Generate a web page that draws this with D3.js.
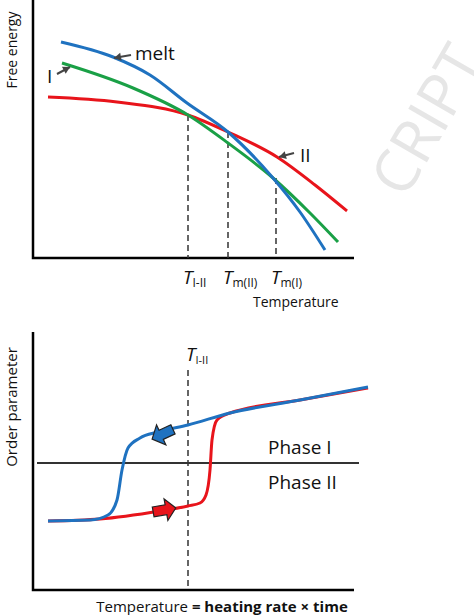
<!DOCTYPE html>
<html><head><meta charset="utf-8">
<script src="https://cdn.jsdelivr.net/npm/d3@7"></script>
<style>body{margin:0;background:#fff}text{font-family:"Open Sans",sans-serif;fill:#111}</style>
</head><body><svg id="c" width="474" height="615"></svg>
<script>
// Top panel: free energy vs temperature
const meltX=[28,80,117,154,195,240,267,292], meltY=[216,201,183,155,126,80,46,8];
const phaseIX=[29,100,155,195,240,277,305], phaseIY=[195,170,143,115,80,45,16];
const phaseIIX=[15,84,155,195,244,282,314], phaseIIY=[161,156,143,126,101,73,47];
const transX=[155,195,243], transY=[143,126,80];
const transMain=["T","T","T"], transSub=["I-II","m(II)","m(I)"];
// Bottom panel: order parameter vs time
const coolX=[15,57,75,84,89,95,107,125,155,197,267,335], coolY=[69,70,75,90,120,142,152,158,165,177,190,203];
const heatX=[15,67,127,155,167,173,177,179,184,197,267,335], heatY=[69,71,79,84,87,95,120,150,170,177,190,202];
const tIIIx=155, phaseBoundary=127;

const svg=d3.select("#c");
const x=d3.scaleLinear().domain([0,321]).range([33,354]);
const y1=d3.scaleLinear().domain([0,258]).range([258,0]);
const y2=d3.scaleLinear().domain([0,258]).range([590,332]);

// watermark
svg.append("text").attr("transform","translate(405,200) rotate(-60)").attr("font-size",60).style("fill","#e6e6e6").text("CRIPT");

// top axes
svg.append("path").attr("d","M33,0V258H354").attr("fill","none").attr("stroke","#000").attr("stroke-width",2.5);
svg.append("text").attr("transform","translate(17,50) rotate(-90)").attr("text-anchor","middle").attr("font-size",14).text("Free energy");
transX.forEach((t,i)=>{
 svg.append("line").attr("x1",x(t)).attr("x2",x(t)).attr("y1",y1(transY[i])).attr("y2",258).attr("stroke","#333").attr("stroke-width",1.5).attr("stroke-dasharray","6,4");
 const tx=svg.append("text").attr("x",x(t)-5).attr("y",284).attr("font-size",19);
 tx.append("tspan").attr("font-style","italic").text(transMain[i]);
 tx.append("tspan").attr("font-size",12).attr("dy",3).text(transSub[i]);
});
svg.append("text").attr("x",253).attr("y",307).attr("font-size",14).text("Temperature");
const line=(xs,ys,ys_)=>d3.line().x((d,i)=>x(xs[i])).y((d,i)=>ys_(ys[i])).curve(d3.curveMonotoneX)(xs);
[[phaseIIX,phaseIIY,"#e8141b"],[phaseIX,phaseIY,"#1aa046"],[meltX,meltY,"#1f72c0"]].forEach(([a,b,c])=>{
 svg.append("path").attr("d",line(a,b,y1)).attr("fill","none").attr("stroke",c).attr("stroke-width",3);
});
// annotations
function arrow(x1,y1_,x2,y2_){
 svg.append("line").attr("x1",x1).attr("y1",y1_).attr("x2",x2).attr("y2",y2_).attr("stroke","#444").attr("stroke-width",2);
 const a=Math.atan2(y2_-y1_,x2-x1);
 const p=[[x2,y2_],[x2-7*Math.cos(a)+4*Math.sin(a),y2_-7*Math.sin(a)-4*Math.cos(a)],[x2-7*Math.cos(a)-4*Math.sin(a),y2_-7*Math.sin(a)+4*Math.cos(a)]];
 svg.append("path").attr("d","M"+p.join("L")+"Z").attr("fill","#444");
}
svg.append("text").attr("x",135).attr("y",60).attr("font-size",19).text("melt");
arrow(131,55,114,58);
svg.append("text").attr("x",47).attr("y",83).attr("font-size",19).text("I");
arrow(57,74,70,67);
svg.append("text").attr("x",300).attr("y",162).attr("font-size",19).text("II");
arrow(294,153,279,157);

// bottom panel
svg.append("path").attr("d","M33,332V590H354").attr("fill","none").attr("stroke","#000").attr("stroke-width",2.5);
svg.append("text").attr("transform","translate(17,407) rotate(-90)").attr("text-anchor","middle").attr("font-size",15).text("Order parameter");
svg.append("line").attr("x1",x(tIIIx)).attr("x2",x(tIIIx)).attr("y1",370).attr("y2",590).attr("stroke","#333").attr("stroke-width",1.5).attr("stroke-dasharray","6,4");
const tt=svg.append("text").attr("x",x(tIIIx)-2).attr("y",361).attr("font-size",19);
tt.append("tspan").attr("font-style","italic").text("T");
tt.append("tspan").attr("font-size",11).attr("dy",3).text("I-II");
svg.append("line").attr("x1",37).attr("x2",359).attr("y1",y2(phaseBoundary)).attr("y2",y2(phaseBoundary)).attr("stroke","#333").attr("stroke-width",2);
svg.append("text").attr("x",268).attr("y",454).attr("font-size",19).text("Phase I");
svg.append("text").attr("x",268).attr("y",489).attr("font-size",19).text("Phase II");
const line2=(xs,ys)=>d3.line().x((d,i)=>x(xs[i])).y((d,i)=>y2(ys[i])).curve(d3.curveMonotoneX)(xs);
svg.append("path").attr("d",line2(heatX,heatY)).attr("fill","none").attr("stroke","#e8141b").attr("stroke-width",3);
svg.append("path").attr("d",line2(coolX,coolY)).attr("fill","none").attr("stroke","#1f72c0").attr("stroke-width",3);
function block(cx,cy,ang,col){
 svg.append("path").attr("d","M-11,-5H2V-11L12,0L2,11V5H-11Z").attr("transform",`translate(${cx},${cy}) rotate(${ang})`)
  .attr("fill",col).attr("stroke","#222").attr("stroke-width",1.2);
}
block(164,510,-10,"#e8141b");
block(163,434,155,"#1f72c0");
const bt=svg.append("text").attr("x",222).attr("y",612).attr("text-anchor","middle").attr("font-size",15);
bt.append("tspan").text("Temperature ");
bt.append("tspan").attr("font-weight","bold").text("= heating rate × time");
</script></body></html>
